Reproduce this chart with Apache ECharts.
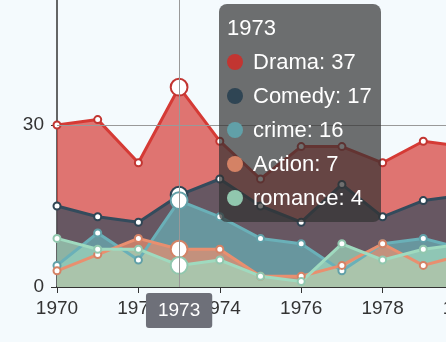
<!DOCTYPE html>
<html><head><meta charset="utf-8">
<script src="https://cdn.jsdelivr.net/npm/echarts@6/dist/echarts.min.js"></script>
<style>html,body{margin:0;padding:0;background:#f4fafd;}#c{width:446px;height:342px;}</style>
</head><body><div id="c"></div>
<script>
const years = ['1970','1971','1972','1973','1974','1975','1976','1977','1978','1979','1980'];
const seriesNames = ['Drama','Comedy','crime','Action','romance'];
const drama   = [30, 31, 23, 37, 27, 20, 26, 26, 23, 27, 26];
const comedy  = [15, 13, 12, 17, 20, 15, 12, 19, 13, 16, 17];
const crime   = [4, 10, 5, 16, 13, 9, 8, 3, 8, 9, 7];
const action  = [3, 6, 9, 7, 7, 2, 2, 4, 8, 4, 6];
const romance = [9, 7, 7, 4, 5, 2, 1, 8, 5, 7, 8];
const yTicks = [0, 30, 60];
const colors = ['#c23531','#2f4554','#61a0a8','#d48265','#91c7ae'];
const values = [drama, comedy, crime, action, romance];
const FONT = '"Liberation Sans", Arial, sans-serif';

const chart = echarts.init(document.getElementById('c'), null, {renderer:'canvas'});
chart.setOption({
  animation: false,
  backgroundColor: '#f4fafd',
  color: colors,
  textStyle: {fontFamily: FONT},
  grid: {left: 57, right: -18, top: -37, bottom: 55, containLabel: false, outerBoundsMode: 'none'},
  tooltip: {
    trigger: 'axis',
    backgroundColor: 'rgba(50,50,50,0.7)',
    borderWidth: 0,
    padding: [7, 9, 7, 8],
    extraCssText: 'box-shadow:none;border-radius:8px;',
    position: function(){ return [219, 4]; },
    axisPointer: {
      type: 'cross',
      crossStyle: {color: '#999', width: 1, type: 'solid'},
      lineStyle: {color: '#999', width: 1, type: 'solid'}
    },
    formatter: function(params){
      let s = '<div style="font-family:'+FONT.replace(/"/g,"'")+';font-size:22px;line-height:34px;color:#fff;white-space:nowrap">';
      s += '<div>' + params[0].axisValue + '</div>';
      params.forEach(function(p){
        s += '<div><span style="display:inline-block;width:16px;height:16px;border-radius:8px;background:'+p.color+';margin-right:10px;vertical-align:-1px"></span>'+p.seriesName+': '+p.value+'</div>';
      });
      return s + '</div>';
    }
  },
  xAxis: {
    type: 'category',
    data: years,
    boundaryGap: false,
    axisLine: {lineStyle: {color: '#333', width: 2}},
    axisTick: {length: 6, lineStyle: {color: '#333'}},
    axisLabel: {interval: 1, fontSize: 19, color: '#333', margin: 12},
    axisPointer: {
      label: {show: true, fontSize: 19, color: '#fff', backgroundColor: '#6e7079', padding: [8, 12, 8, 12], margin: 6}
    }
  },
  yAxis: {
    type: 'value',
    min: yTicks[0], max: yTicks[yTicks.length-1], interval: yTicks[1]-yTicks[0],
    axisLine: {show: true, lineStyle: {color: '#333', width: 1.5}},
    axisTick: {show: true, length: 6, lineStyle: {color: '#333'}},
    axisLabel: {fontSize: 19, color: '#333', margin: 13},
    splitLine: {show: false},
    axisPointer: {label: {show: false}}
  },
  series: seriesNames.map(function(n, i){
    return {
      name: n, type: 'line', data: values[i],
      symbol: 'emptyCircle', symbolSize: 7,
      lineStyle: {width: 3},
      itemStyle: {borderWidth: 2},
      areaStyle: {opacity: 0.7},
      emphasis: {scale: 2.4, focus: 'none'}
    };
  })
});
chart.dispatchAction({type: 'showTip', x: 179, y: 125});
</script></body></html>
